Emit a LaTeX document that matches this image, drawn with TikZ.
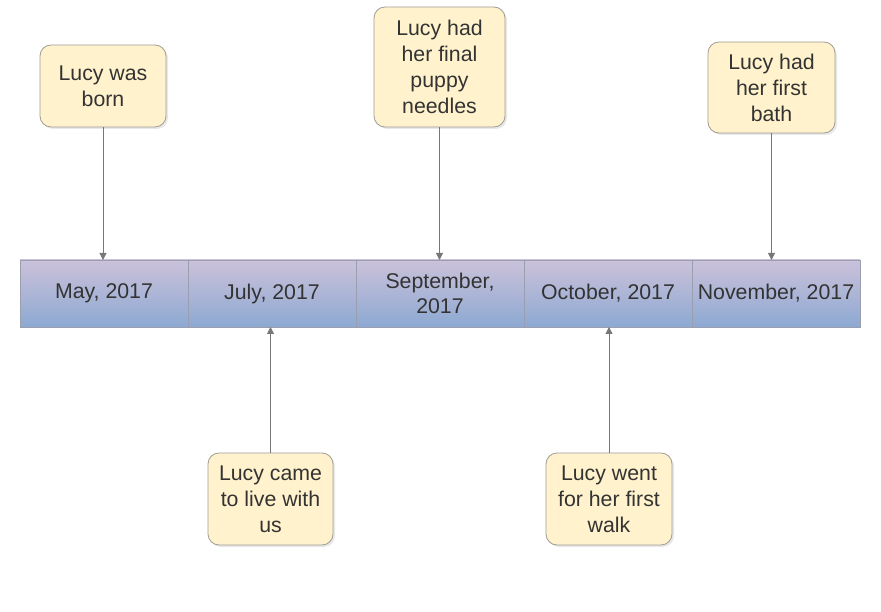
\documentclass[tikz,border=0pt]{standalone}
\usepackage{fontspec}
\setmainfont{Liberation Sans}
\usetikzlibrary{arrows.meta, positioning, shadows}
\definecolor{notefill}{HTML}{FFF2CC}
\definecolor{noteline}{HTML}{A09C94}
\definecolor{bartop}{HTML}{CBC1DA}
\definecolor{barbottom}{HTML}{8DA9D2}
\definecolor{barline}{HTML}{9A9FB0}
\definecolor{pointer}{HTML}{777777}
\definecolor{textdark}{HTML}{333333}

\begin{document}
\begin{tikzpicture}[x=1pt, y=-1pt, >={Triangle[length=7pt, width=7pt]},
    font=\fontsize{21.3}{26}\selectfont, text=textdark,
    month/.style={draw=barline, line width=0.8pt, top color=bartop, bottom color=barbottom,
        minimum width=168pt, minimum height=67pt, inner sep=0pt, outer sep=0pt, align=center,
        font=\fontsize{21.3}{25}\selectfont},
    event/.style={draw=noteline, line width=0.8pt, fill=notefill, rounded corners=11pt,
        inner sep=0pt, align=center,
        drop shadow={opacity=0.18, shadow xshift=2pt, shadow yshift=-2pt}},
    pointer/.style={draw=pointer, line width=0.8pt, ->}]

    % Canvas
    \useasboundingbox (0,0) rectangle (881,612);

    % Timeline bar
    \node[month] (may) at (104,293.5) {May, 2017};
    \node[month, right=0pt of may] (jul) {July, 2017};
    \node[month, right=0pt of jul] (sep) {September,\\2017};
    \node[month, right=0pt of sep] (oct) {October, 2017};
    \node[month, right=0pt of oct] (nov) {November, 2017};

    % Events above
    \node[event, minimum width=126pt, minimum height=82pt] (born) at (103,86) {Lucy was\\born};
    \node[event, minimum width=131pt, minimum height=120pt] (needles) at (439.5,67) {Lucy had\\her final\\puppy\\needles};
    \node[event, minimum width=127pt, minimum height=91pt] (bath) at (771.5,87.5) {Lucy had\\her first\\bath};

    % Events below
    \node[event, minimum width=125pt, minimum height=92pt] (live) at (270.5,499) {Lucy came\\to live with\\us};
    \node[event, minimum width=126pt, minimum height=92pt] (walk) at (609,499) {Lucy went\\for her first\\walk};

    % Pointers
    \draw[pointer] (born.south) -- (born.south |- may.north);
    \draw[pointer] (needles.south) -- (needles.south |- sep.north);
    \draw[pointer] (bath.south) -- (bath.south |- nov.north);
    \draw[pointer] (live.north) -- (live.north |- jul.south);
    \draw[pointer] (walk.north) -- (walk.north |- oct.south);

\end{tikzpicture}
\end{document}
